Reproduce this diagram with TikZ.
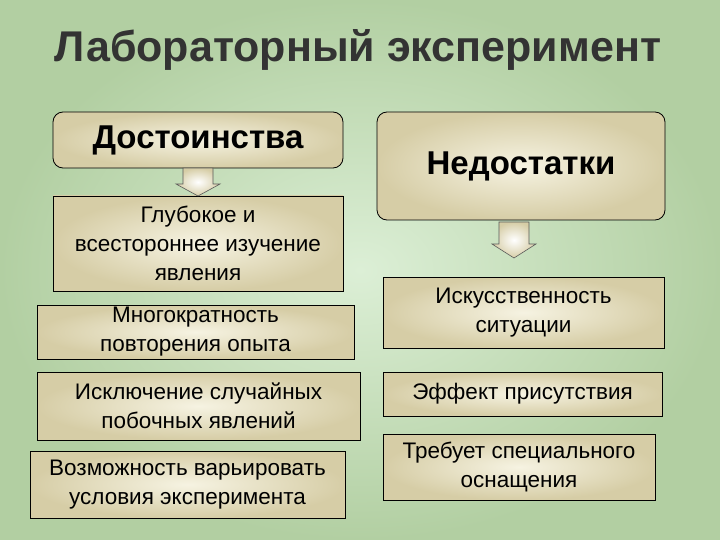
\documentclass[tikz,border=0pt]{standalone}
\usepackage{fontspec}
\setmainfont{Liberation Sans}
\definecolor{bgin}{HTML}{DCEFD6}
\definecolor{bgout}{HTML}{B2CFA2}
\definecolor{bxin}{HTML}{F6F3E2}
\definecolor{bxout}{HTML}{D6CDA6}
\begin{document}
\begin{tikzpicture}[x=1pt,y=-1pt,
  box/.style={draw=black,line width=0.8pt,inner color=bxin,outer color=bxout,align=center,font=\fontsize{22.5}{29}\selectfont,inner sep=0pt},
  head/.style={box,rounded corners=10pt,font=\fontsize{33}{38}\selectfont\bfseries},
  darrow/.style={draw=gray!70!black,line width=0.6pt,inner color=white,outer color=bxout}]
\shade[inner color=bgin,outer color=bgout] (0,0) rectangle (720,540);
\useasboundingbox (0,0) rectangle (720,540);
\node[font=\fontsize{43}{48}\selectfont\bfseries,text=black!80] (t) at (358,50) {Лабораторный эксперимент};
\node[head,minimum width=290pt,minimum height=56pt] (d) at (198,140) {Достоинства};
\node[head,minimum width=288pt,minimum height=108pt] (n) at (521,166) {Недостатки};
\node[box,minimum width=290pt,minimum height=95pt] (b1) at (198,243.5) {Глубокое и\\всестороннее изучение\\явления};
\node[box,minimum width=317pt,minimum height=54pt] (b2) at (195.5,332) {Многократность\\повторения опыта};
\node[box,minimum width=323pt,minimum height=68pt] (b3) at (198.5,406) {Исключение случайных\\побочных явлений};
\node[box,minimum width=315pt,minimum height=67pt] (b4) at (187.5,484.5) {Возможность варьировать\\условия эксперимента};
\node[box,minimum width=281pt,minimum height=71pt] (r1) at (523.5,312.5) {Искусственность\\ситуации};
\node[box,minimum width=279pt,minimum height=44pt] (r2) at (522.5,394) {Эффект присутствия};
\node[box,minimum width=272pt,minimum height=66pt] (r3) at (519,467) {Требует специального\\оснащения};
\coordinate (a1) at (198,168);
\shade[darrow] ([xshift=-15]a1) -- ++(0,16) -- ++(-7,0) -- (198,196) -- ++(22,-12) -- ++(-7,0) -- ++(0,-16) -- cycle;
\coordinate (a2) at (514,222);
\shade[darrow] ([xshift=-15]a2) -- ++(0,22) -- ++(-7,0) -- (514,258) -- ++(22,-14) -- ++(-7,0) -- ++(0,-22) -- cycle;
\end{tikzpicture}
\end{document}
